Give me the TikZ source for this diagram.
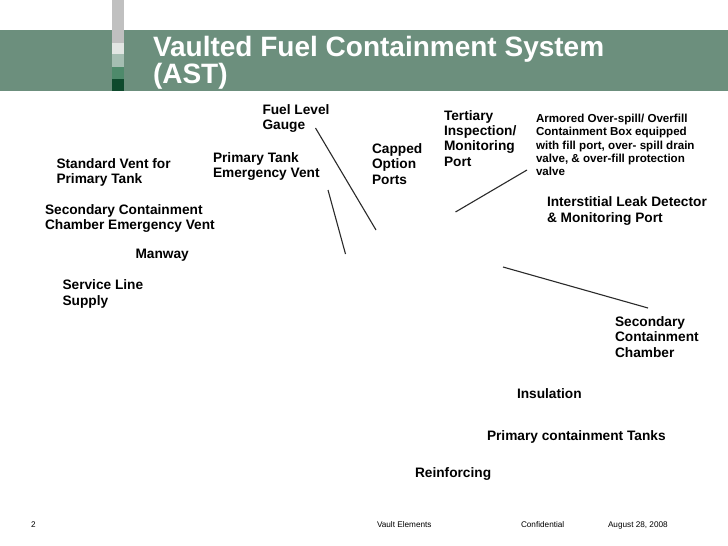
\documentclass[tikz,border=0pt]{standalone}
\usepackage{fontspec}
\setmainfont{Liberation Sans}
\definecolor{bandgreen}{HTML}{6C8F7D}
\definecolor{bargray}{HTML}{C0C0C0}
\definecolor{seg1}{HTML}{E2E6E3}
\definecolor{seg2}{HTML}{A5BEB2}
\definecolor{seg3}{HTML}{4E8A6B}
\definecolor{seg4}{HTML}{0E4A2D}
\definecolor{linecol}{HTML}{2A2A2A}
\newcommand{\twoln}[2]{\vtop{\baselineskip=15.6pt\hbox{#1}\hbox{#2}}}
\newcommand{\threeln}[3]{\vtop{\baselineskip=15.6pt\hbox{#1}\hbox{#2}\hbox{#3}}}
\newcommand{\fourln}[4]{\vtop{\baselineskip=15.4pt\hbox{#1}\hbox{#2}\hbox{#3}\hbox{#4}}}
\begin{document}
\begin{tikzpicture}[x=1pt,y=-1pt,
  lbl/.style={anchor=base west,inner sep=0pt,outer sep=0pt,font=\fontsize{13.7}{15.6}\selectfont\bfseries},
  smalllbl/.style={anchor=base west,inner sep=0pt,outer sep=0pt,font=\fontsize{11.6}{13.3}\selectfont\bfseries},
  titlelbl/.style={anchor=base west,inner sep=0pt,outer sep=0pt,text=white,font=\fontsize{28}{22.5}\selectfont\bfseries},
  footlbl/.style={anchor=base west,inner sep=0pt,outer sep=0pt,font=\fontsize{8.2}{9}\selectfont},
  leader/.style={draw=linecol,line width=1.1pt}]
\useasboundingbox (0,0) rectangle (728,546);
\fill[white] (0,0) rectangle (728,546);
% header band and side bar
\fill[bandgreen] (0,30) rectangle (728,90.7);
\fill[bargray] (112,0) rectangle (124,42.7);
\fill[seg1] (112,42.7) rectangle (124,54);
\fill[seg2] (112,54) rectangle (124,67);
\fill[seg3] (112,67) rectangle (124,79);
\fill[seg4] (112,79) rectangle (124,90.7);
% title
\node[titlelbl] (title) at (153,56) {\vtop{\baselineskip=22.5pt\hbox{Vaulted Fuel Containment System}\hbox{(AST)}}};
% labels
\node[lbl] (fuel) at (262.5,114) {\twoln{Fuel Level}{Gauge}};
\node[lbl] (ptev) at (213,162) {\twoln{Primary Tank}{Emergency Vent}};
\node[lbl] (svent) at (56.5,168) {\twoln{Standard Vent for}{Primary Tank}};
\node[lbl] (scev) at (45,214) {\twoln{Secondary Containment}{Chamber Emergency Vent}};
\node[lbl] (manway) at (135.5,258.5) {Manway};
\node[lbl] (service) at (62.5,289.5) {\twoln{Service Line}{Supply}};
\node[lbl] (capped) at (372,153) {\threeln{Capped}{Option}{Ports}};
\node[lbl] (tert) at (444,120) {\fourln{Tertiary}{Inspection/}{Monitoring}{Port}};
\node[smalllbl] (armored) at (536,122.5) {\vtop{\baselineskip=13.35pt\hbox{Armored Over-spill/ Overfill}\hbox{Containment Box equipped}\hbox{with fill port, over- spill drain}\hbox{valve, \& over-fill protection}\hbox{valve}}};
\node[lbl] (inter) at (547,206.5) {\twoln{Interstitial Leak Detector}{\& Monitoring Port}};
\node[lbl] (scc) at (615,326) {\threeln{Secondary}{Containment}{Chamber}};
\node[lbl] (insul) at (517,398) {Insulation};
\node[lbl] (pct) at (487,440) {Primary containment Tanks};
\node[lbl] (reinf) at (415,477.5) {Reinforcing};
% footer
\node[footlbl] (pg) at (31,527.5) {2};
\node[footlbl] (ve) at (377,527.5) {Vault Elements};
\node[footlbl] (conf) at (521,527.5) {Confidential};
\node[footlbl] (date) at (608,527.5) {August 28, 2008};
% leader lines
\coordinate (fuelA) at (315.5,128);
\coordinate (fuelB) at (376,230);
\coordinate (ptevA) at (328,190);
\coordinate (ptevB) at (345.5,254);
\coordinate (armA) at (527,170);
\coordinate (armB) at (455.5,212);
\coordinate (sccA) at (648,308);
\coordinate (sccB) at (503,267);
\draw[leader] (fuelA) -- (fuelB);
\draw[leader] (ptevA) -- (ptevB);
\draw[leader] (armA) -- (armB);
\draw[leader] (sccA) -- (sccB);
\end{tikzpicture}
\end{document}
